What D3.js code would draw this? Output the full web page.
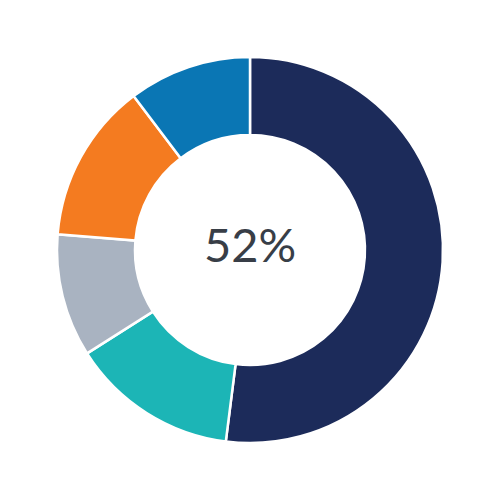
<!DOCTYPE html>
<html>
<head>
<meta charset="utf-8">
<script src="https://cdn.jsdelivr.net/npm/d3@7"></script>
<style>
  body { margin: 0; background: #fff; }
</style>
</head>
<body>
<script>
const categories = ["A", "B", "C", "D", "E"];
const values = [52, 14, 10.3, 13.4, 10.3];
const colors = ["#1c2b5a", "#1cb5b6", "#a9b3c1", "#f47b20", "#0a76b4"];
const centerLabel = "52%";

const width = 500, height = 500;
const outerR = 193, innerR = 115;

const svg = d3.select("body").append("svg")
    .attr("width", width)
    .attr("height", height);

const g = svg.append("g")
    .attr("transform", `translate(${width / 2}, ${height / 2})`);

const pie = d3.pie().sort(null).value(d => d.value);
const arc = d3.arc().innerRadius(innerR).outerRadius(outerR);

const data = categories.map((c, i) => ({ name: c, value: values[i], color: colors[i] }));

g.selectAll("path")
    .data(pie(data))
    .join("path")
    .attr("d", arc)
    .attr("fill", d => d.data.color)
    .attr("stroke", "#fff")
    .attr("stroke-width", 2.5);

g.append("text")
    .attr("text-anchor", "middle")
    .attr("y", -4)
    .attr("dy", "0.35em")
    .attr("font-family", "Lato, 'Open Sans', sans-serif")
    .attr("font-weight", 400)
    .attr("font-size", 47)
    .attr("fill", "#383e47")
    .text(centerLabel);
</script>
</body>
</html>
